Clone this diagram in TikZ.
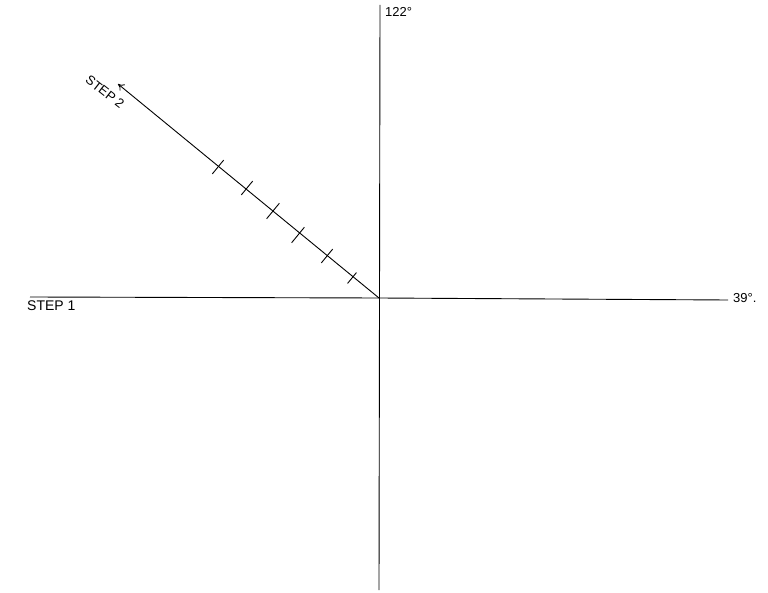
\documentclass[tikz,border=0pt]{standalone}
\usepackage{fontspec}
\setmainfont{Liberation Sans}
\usetikzlibrary{arrows.meta}
\begin{document}
\begin{tikzpicture}[x=1pt,y=-1pt,
  axis/.style={line width=0.9pt,black},
  tickmark/.style={line width=0.9pt,black},
  lbl/.style={font=\fontsize{13}{13}\selectfont,inner sep=0pt}]
\useasboundingbox (0,0) rectangle (768,593);
\fill[white] (0,0) rectangle (768,593);
% key points
\coordinate (O) at (379,298);
\coordinate (top) at (380,5);
\coordinate (bot) at (379,590);
\coordinate (left) at (30,297);
\coordinate (right) at (728,300);
\coordinate (tip) at (118,84);
% axes
\draw[axis] (top) -- (bot);
\draw[axis] (left) -- (O) -- (right);
\draw[axis,-{To[length=6pt,width=8pt]}] (O) -- (tip);
% ticks along step 2
\foreach \px/\py/\h in {218/167/9, 247/188/9, 273/211/10, 298/235/10, 327/256/9, 352/278/7}{
  \draw[tickmark] (\px+0.634*\h,\py-0.773*\h) -- (\px-0.634*\h,\py+0.773*\h);
}
% labels
\node[lbl,anchor=west] (l122) at (385,12) {122°};
\node[lbl,anchor=west] (l39) at (733,298) {39°.};
\node[lbl,anchor=north west,font=\fontsize{14}{14}\selectfont] (s1) at (27,301) {STEP 1};
\node[lbl,rotate=-38] (s2) at (105,92) {STEP 2};
\end{tikzpicture}
\end{document}
